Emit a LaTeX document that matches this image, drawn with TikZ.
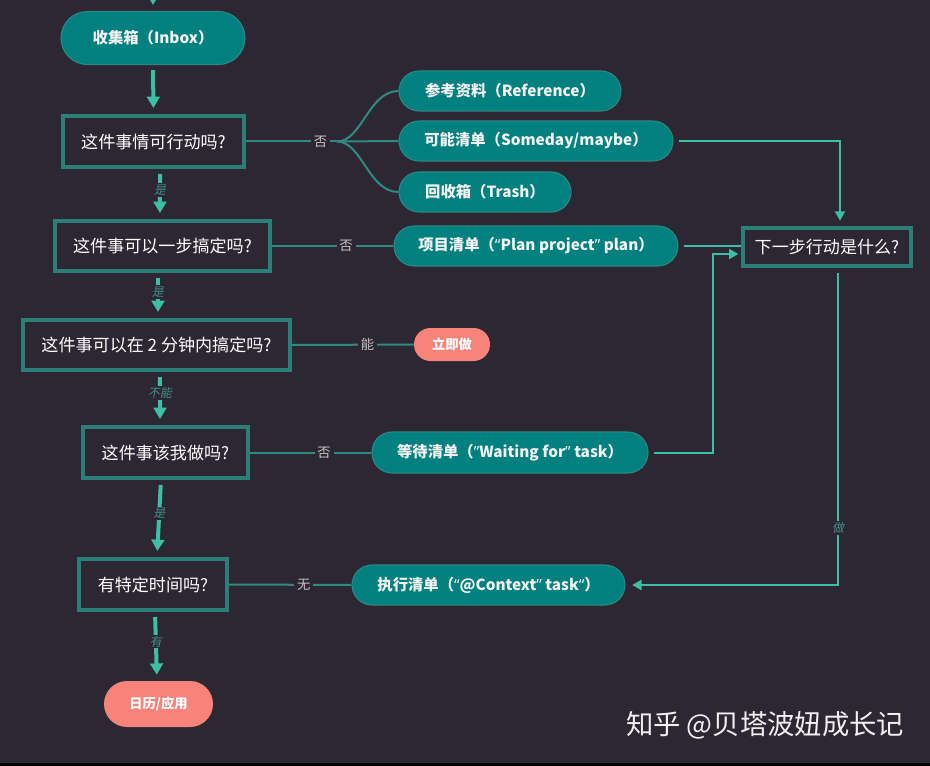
\documentclass[tikz,border=0pt]{standalone}
\usepackage{fontspec}
\setmainfont{Noto Sans CJK SC}
\newfontfamily\slantcjk[FakeSlant=0.2]{Noto Sans CJK SC}
\newfontfamily\quotefont{Noto Sans}
\newcommand{\oq}{{\quotefont “}}
\newcommand{\cq}{{\quotefont ”}}
\usetikzlibrary{arrows.meta}

\definecolor{bgdark}{HTML}{2D2733}
\definecolor{tealfill}{HTML}{00807E}
\definecolor{tealedge}{HTML}{2A8A83}
\definecolor{boxedge}{HTML}{2B7F78}
\definecolor{arrowteal}{HTML}{3DBFA6}
\definecolor{lineteal}{HTML}{2E8A82}
\definecolor{salmon}{HTML}{F8837B}
\definecolor{lblgray}{HTML}{C4C4C4}
\definecolor{yesteal}{HTML}{3F8E87}

\tikzset{
  qbox/.style={draw=boxedge, line width=3pt, fill=bgdark, text=white, inner sep=0pt,
    font=\fontsize{12.8}{14}\selectfont},
  pill/.style={draw=tealedge, line width=0.8pt, fill=tealfill, text=white!96!black, inner sep=0pt,
    minimum height=30pt, rounded corners=15pt, font=\fontsize{11.5}{14}\selectfont\bfseries},
  hotpill/.style={fill=salmon, text=white, inner sep=0pt, font=\fontsize{10}{12}\selectfont\bfseries},
  nolbl/.style={fill=bgdark, text=lblgray, inner sep=2.2pt, font=\fontsize{10}{12}\selectfont},
  yeslbl/.style={fill=bgdark, text=yesteal, inner sep=1pt, font=\fontsize{9}{11}\slantcjk},
  down/.style={draw=arrowteal, line width=3pt, -{Triangle[width=9.5pt,length=8.5pt]},
    shorten <=3.75pt, shorten >=4.5pt},
  link/.style={draw=lineteal, line width=1.5pt},
  flow/.style={draw=arrowteal, line width=1.5pt},
  tip/.style={-{Triangle[width=7.5pt,length=7pt]}}
}

\begin{document}
\begin{tikzpicture}[x=0.75pt, y=-0.75pt]
\fill[bgdark] (0,0) rectangle (930,766);
\useasboundingbox (0,0) rectangle (930,766);
\fill[black] (0,763) rectangle (930,766);

% left column of questions
\node[pill, minimum width=138pt, minimum height=39.75pt, rounded corners=19.8pt] (inbox) at (153,38) {收集箱（Inbox）};
\node[qbox, minimum width=135.75pt, minimum height=38.25pt] (q1) at (153.5,141.5) {这件事情可行动吗?};
\node[qbox, minimum width=161.25pt, minimum height=37.5pt] (q2) at (162.5,246) {这件事可以一步搞定吗?};
\node[qbox, minimum width=200.25pt, minimum height=37.5pt] (q3) at (156.5,345) {这件事可以在 2 分钟内搞定吗?};
\node[qbox, minimum width=123.75pt, minimum height=38.25pt] (q4) at (165.5,452.5) {这件事该我做吗?};
\node[qbox, minimum width=111pt, minimum height=38.25pt] (q5) at (153,584.5) {有特定时间吗?};
\node[hotpill, minimum width=81.75pt, minimum height=34.5pt, rounded corners=17.2pt] (cal) at (158.5,704) {日历/应用};

% lists
\node[pill, minimum width=166.5pt] (ref) at (510,91) {参考资料（Reference）};
\node[pill, minimum width=205.5pt] (some) at (536,141) {可能清单（Someday/maybe）};
\node[pill, minimum width=129pt] (trash) at (485,192) {回收箱（Trash）};
\node[pill, minimum width=213pt] (proj) at (536,246) {项目清单（\oq Plan project\cq\ plan）};
\node[hotpill, minimum width=57pt, minimum height=24.75pt, rounded corners=12.3pt] (now) at (452,344.5) {立即做};
\node[pill, minimum width=207pt, minimum height=30.75pt] (wait) at (510,452.5) {等待清单（\cq Waiting for\cq\ task）};
\node[pill, minimum width=204.75pt] (exec) at (488.5,585) {执行清单（\oq @Context\cq\ task\oq）};
\node[qbox, minimum width=126pt, minimum height=28.5pt] (next) at (827,247) {下一步行动是什么?};

\node[text=white!94!black, font=\fontsize{20.5}{24}\selectfont] (mark) at (765,725) {知乎 @贝塔波妞成长记};

% down the left
\coordinate (entry) at (153,-40);
\coordinate (fork) at (337,141.5);
\draw[down] (entry) -- (inbox.north);
\draw[down] (inbox.south) -- (q1.north);
\draw[down] ([xshift=4.9pt]q1.south) -- node[pos=0.42, yeslbl]{是} ([xshift=-1.9pt]q2.north);
\draw[down] ([xshift=-3.4pt]q2.south) -- node[pos=0.42, yeslbl]{是} ([xshift=1.1pt]q3.north);
\draw[down] ([xshift=2.6pt]q3.south) -- node[pos=0.4, yeslbl]{不能} ([xshift=-4.1pt]q4.north);
\draw[down] ([xshift=-3.4pt]q4.south) -- node[pos=0.43, yeslbl]{是} ([xshift=3pt]q5.north);
\draw[down] ([xshift=1.5pt]q5.south) -- node[pos=0.43, yeslbl]{有} ([xshift=-1.1pt]cal.north);

% answers to the right
\draw[link] (q1.east) -- node[pos=0.82, nolbl]{否} (fork);
\draw[link] (fork) .. controls +(25,0) and +(-30,0) .. (ref.west);
\draw[link] (fork) -- (some.west);
\draw[link] (fork) .. controls +(25,0) and +(-30,0) .. (trash.west);
\draw[link] (q2.east) -- node[pos=0.61, nolbl]{否} (proj.west);
\draw[link] (q3.east) -- node[pos=0.62, nolbl]{能} (now.west);
\draw[link] (q4.east) -- node[pos=0.61, nolbl]{否} (wait.west);
\draw[link] (q5.east) -- node[pos=0.61, nolbl]{无} (exec.west);

% into and out of the next action
\draw[flow, tip, shorten >=4pt] ([xshift=3.75pt]some.east) -| ([xshift=9.75pt]next.north);
\draw[flow] ([xshift=3.75pt]proj.east) -- (proj.east -| next.west);
\draw[flow, tip, shorten >=2pt] ([xshift=3.75pt]wait.east) -- ++(59,0) |- ([yshift=-5.25pt]next.west);
\draw[flow, tip, shorten <=3.75pt] ([xshift=8.25pt]next.south) |- node[pos=0.41, yeslbl]{做} ([xshift=5pt]exec.east);
\end{tikzpicture}
\end{document}
